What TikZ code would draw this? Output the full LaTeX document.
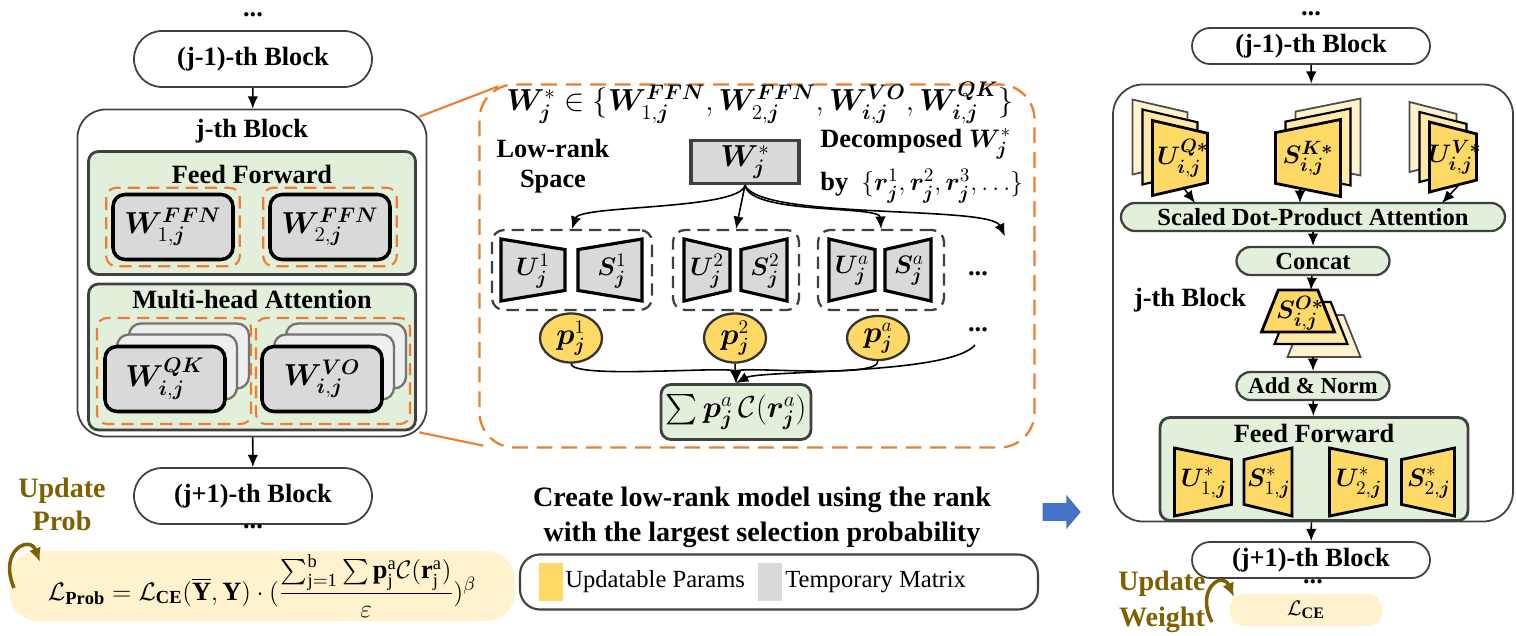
\documentclass[tikz,border=0pt]{standalone}
\usepackage{fontspec}
\setmainfont{Liberation Serif}
\usepackage{amsmath,bm}
\usetikzlibrary{shapes.misc,shapes.arrows,shapes.geometric,arrows.meta}
\newlength\pxl \setlength\pxl{0.02cm}
\newcommand\bft{\fontsize{15}{18}\selectfont\bfseries}
\newcommand\trU[5]{% cx,cy,w,h,style  (U: tall left edge)
 \draw[#5] ({#1-#3/2},{#2-#4/2}) -- ({#1+#3/2},{#2-#4/2+0.17*#4}) -- ({#1+#3/2},{#2+#4/2-0.17*#4}) -- ({#1-#3/2},{#2+#4/2}) -- cycle;}
\newcommand\trS[5]{% S: tall right edge
 \draw[#5] ({#1-#3/2},{#2-#4/2+0.17*#4}) -- ({#1+#3/2},{#2-#4/2}) -- ({#1+#3/2},{#2+#4/2}) -- ({#1-#3/2},{#2+#4/2-0.17*#4}) -- cycle;}
\newcommand\trO[5]{% horizontal: narrow top
 \draw[#5] ({#1-0.27*#3},{#2-#4/2}) -- ({#1+0.27*#3},{#2-#4/2}) -- ({#1+#3/2},{#2+#4/2}) -- ({#1-#3/2},{#2+#4/2}) -- cycle;}
\definecolor{yel}{HTML}{FFD966}
\definecolor{lyel}{HTML}{FFF2CC}
\definecolor{byel}{HTML}{FFE8A8}
\definecolor{grn}{HTML}{E2EFDA}
\definecolor{gry}{HTML}{D9D9D9}
\definecolor{lgry}{HTML}{EEEEEE}
\definecolor{org}{HTML}{ED7D31}
\definecolor{olv}{HTML}{7F6000}
\definecolor{blu}{HTML}{4472C4}
\tikzset{
 blk/.style={rounded rectangle, draw=black!75, line width=1pt, fill=white, font=\bft, minimum height=56\pxl, minimum width=238\pxl, inner sep=0},
 gbox/.style={draw=black!75, line width=1.6pt, fill=grn, rounded corners=10\pxl, inner sep=0},
 wbox/.style={draw=black, line width=2pt, fill=gry, rounded corners=12\pxl, inner sep=0, font=\fontsize{17}{19}\selectfont, minimum width=120\pxl, minimum height=65\pxl},
 bwbox/.style={draw=black!55, line width=1.3pt, fill=lgry, rounded corners=12\pxl, minimum width=120\pxl, minimum height=65\pxl},
 odash/.style={draw=org, line width=1.2pt, dash pattern=on 7pt off 4pt, rounded corners=10\pxl},
 kdash/.style={draw=black!75, line width=1.3pt, dash pattern=on 7pt off 4pt, rounded corners=12\pxl, inner sep=0},
 arr/.style={-{Latex[length=7pt,width=6pt]}, line width=0.9pt},
 tg/.style={draw=black, line width=1.8pt, fill=gry},
 ty/.style={draw=black, line width=1.6pt, fill=yel},
 tb/.style={draw=black, line width=1.2pt, fill=byel},
 tbb/.style={draw=black!70, line width=1pt, fill=lyel},
 ml/.style={font=\fontsize{15}{17}\selectfont, inner sep=0},
 pill/.style={rounded rectangle, draw=black!75, line width=1.3pt, fill=grn, inner sep=0, font=\fontsize{14}{16}\selectfont\bfseries},
 tx/.style={font=\bft, inner sep=0},
 lbl/.style={font=\fontsize{15}{17}\selectfont\bfseries, inner sep=0, align=center},
 olive/.style={font=\fontsize{16}{18}\selectfont\bfseries, text=olv, inner sep=0},
 pel/.style={ellipse, draw=black!80, line width=1.3pt, fill=yel, minimum width=62\pxl, minimum height=44\pxl, inner sep=0, font=\fontsize{16}{18}\selectfont},
}
\begin{document}
\begin{tikzpicture}[x=0.02cm,y=-0.02cm]
\useasboundingbox (0,0) rectangle (1516,636);
% ===== left column
\node[tx] (dl1) at (253,15) {...};
\node[blk] (bm1) at (253,59) {(j-1)-th Block};
\node[draw=black!75, line width=1pt, rounded corners=28\pxl, minimum width=349\pxl, minimum height=327\pxl, inner sep=0] (jb) at (252,273) {};
\node[tx] (jbt) at (252,131) {j-th Block};
\draw[arr] (bm1) -- (jb);
\node[gbox, minimum width=327\pxl, minimum height=123\pxl] (ff) at (252,213) {};
\node[tx] (fft) at (252,174) {Feed Forward};
\node[wbox] (f1) at (173,227) {$\bm{W}^{\bm{FFN}}_{1,\bm{j}}$};
\node[wbox] (f2) at (330,227) {$\bm{W}^{\bm{FFN}}_{2,\bm{j}}$};
\draw[odash] ([shift={(-5,-5)}]f1.north west) rectangle ([shift={(5,5)}]f1.south east);
\draw[odash] ([shift={(-5,-5)}]f2.north west) rectangle ([shift={(5,5)}]f2.south east);
\node[gbox, minimum width=327\pxl, minimum height=146\pxl] (mha) at (252,357) {};
\node[tx] (mhat) at (252,300) {Multi-head Attention};
\draw[odash] (97,318) rectangle (251,424);
\draw[odash] (256,318) rectangle (410,424);
\node[bwbox] (qkb2) at (189,356) {};
\node[bwbox] (qkb1) at (177,367) {};
\node[wbox] (qk) at (165,379) {$\bm{W}^{\bm{QK}}_{\bm{i},\bm{j}}$};
\node[bwbox] (vob2) at (346,356) {};
\node[bwbox] (vob1) at (334,367) {};
\node[wbox] (vo) at (322,379) {$\bm{W}^{\bm{VO}}_{\bm{i},\bm{j}}$};
\node[blk] (bp1) at (253,496) {(j+1)-th Block};
\draw[arr] (jb) -- (bp1);
\node[tx] (dl2) at (253,527) {...};
\node[olive] (up1) at (62,491) {Update};
\node[olive] (up2) at (62,521) {Prob};
\node[draw=none, fill=lyel, rounded corners=28\pxl, minimum width=505\pxl, minimum height=70\pxl, inner sep=0] (lp) at (262,586)
 {\fontsize{15}{17}\selectfont$\mathcal{L}_{\mathbf{Prob}}=\mathcal{L}_{\mathbf{CE}}(\overline{\mathbf{Y}},\mathbf{Y})\cdot(\dfrac{\sum_{\mathrm{j=1}}^{\mathrm{b}}\sum \mathbf{p}_{\mathrm{j}}^{\mathrm{a}}\mathcal{C}(\mathbf{r}_{\mathrm{j}}^{\mathrm{a}})}{\varepsilon})^{\beta}$};
\coordinate (ca1) at (14,588);
\coordinate (ca2) at (40,562);
\draw[-{Latex[length=8pt,width=7pt]}, line width=2pt, draw=olv] (ca1) .. controls (-2,550) and (30,535) .. (ca2);
% ===== middle
\node[odash, line width=1.3pt, rounded corners=35\pxl, minimum width=555\pxl, minimum height=363\pxl, draw=org, dash pattern=on 9pt off 5pt] (mid) at (757,266) {};
\draw[org, line width=1.2pt] ([shift={(-8,8)}]jb.north east) -- ([shift={(20,3)}]mid.north west);
\draw[org, line width=1.2pt] ([shift={(-8,-5)}]jb.south east) -- ([shift={(5,-3)}]mid.south west);
\node[ml, font=\fontsize{17}{19}\selectfont] (top) at (760,103) {$\bm{W}^{*}_{\bm{j}}\in\{\bm{W}^{\bm{FFN}}_{1,\bm{j}},\bm{W}^{\bm{FFN}}_{2,\bm{j}},\bm{W}^{\bm{VO}}_{\bm{i},\bm{j}},\bm{W}^{\bm{QK}}_{\bm{i},\bm{j}}\}$};
\node[lbl] (lrs) at (553,166) {Low-rank\\Space};
\node[draw=black!75, line width=2pt, fill=gry, minimum width=108\pxl, minimum height=43\pxl, inner sep=0, font=\fontsize{17}{19}\selectfont] (ws) at (745,162) {$\bm{W}^{*}_{\bm{j}}$};
\node[lbl, anchor=west] (dec) at (820,144) {Decomposed $\bm{W}^{*}_{\bm{j}}$};
\node[lbl, anchor=west] (by) at (820,186) {by \ $\{\bm{r}^1_{\bm{j}},\bm{r}^2_{\bm{j}},\bm{r}^3_{\bm{j}},\ldots\}$};
\node[kdash, minimum width=160\pxl, minimum height=80\pxl] (g1) at (572,270) {};
\node[kdash, minimum width=126\pxl, minimum height=80\pxl] (g2) at (736,270) {};
\node[kdash, minimum width=126\pxl, minimum height=80\pxl] (g3) at (881,270) {};
\coordinate (g4) at (1005,236);
\draw[arr] (ws.south) .. controls (740,210) and (580,205) .. (g1.north);
\draw[arr] (ws.south) -- (g2.north);
\draw[arr] (ws.south) .. controls (750,215) and (880,205) .. (g3.north);
\draw[arr] (ws.south) .. controls (760,220) and (990,205) .. (g4);
\trU{533}{270}{64}{62}{tg} \node[ml] (u1) at (533,271) {$\bm{U}^1_{\bm{j}}$};
\trS{610}{270}{64}{62}{tg} \node[ml] (s1) at (612,271) {$\bm{S}^1_{\bm{j}}$};
\trU{707}{270}{46}{62}{tg} \node[ml] (u2) at (707,271) {$\bm{U}^2_{\bm{j}}$};
\trS{764}{270}{46}{62}{tg} \node[ml] (s2) at (765,271) {$\bm{S}^2_{\bm{j}}$};
\trU{852}{270}{46}{62}{tg} \node[ml] (u3) at (852,271) {$\bm{U}^a_{\bm{j}}$};
\trS{908}{270}{46}{62}{tg} \node[ml] (s3) at (909,271) {$\bm{S}^a_{\bm{j}}$};
\node[tx] (dm1) at (978,274) {...};
\node[pel] (p1) at (571,338) {$\bm{p}^1_{\bm{j}}$};
\node[pel] (p2) at (735,338) {$\bm{p}^2_{\bm{j}}$};
\node[pel] (p3) at (878,338) {$\bm{p}^a_{\bm{j}}$};
\node[tx] (dm2) at (978,330) {...};
\coordinate (pe) at (975,345);
\node[gbox, minimum width=150\pxl, minimum height=55\pxl, font=\fontsize{17}{19}\selectfont] (sum) at (736,412) {$\sum \bm{p}^a_{\bm{j}}\,\mathcal{C}(\bm{r}^a_{\bm{j}})$};
\draw[arr] (p1.south) .. controls (571,380) and (736,365) .. (sum.north);
\draw[arr] (p2.south) -- (sum.north);
\draw[arr] (p3.south) .. controls (878,380) and (736,365) .. (sum.north);
\draw[arr] (pe) .. controls (950,375) and (760,370) .. (sum.north);
\node[font=\fontsize{16}{20}\selectfont\bfseries, align=center, inner sep=0] (cr) at (762,517) {Create low-rank model using the rank\\with the largest selection probability};
\node[draw=black!75, line width=1.2pt, rounded corners=20\pxl, minimum width=518\pxl, minimum height=55\pxl, inner sep=0] (leg) at (779,582) {};
\node[fill=yel, minimum width=24\pxl, minimum height=38\pxl, inner sep=0] (ly) at (551,582) {};
\node[anchor=west, font=\fontsize{14}{16}\selectfont, inner sep=0] (lyt) at (565,582) {Updatable Params};
\node[fill=gry, minimum width=24\pxl, minimum height=38\pxl, inner sep=0] (lg) at (770,582) {};
\node[anchor=west, font=\fontsize{14}{16}\selectfont, inner sep=0] (lgt) at (785,582) {Temporary Matrix};
\node[single arrow, fill=blu, minimum height=38\pxl, minimum width=34\pxl, inner sep=5\pxl, single arrow head extend=5\pxl, single arrow tip angle=100] (ba) at (1058,512) {};
% ===== right
\node[tx] (dr1) at (1311,14) {...};
\node[blk, minimum height=36\pxl] (rbm1) at (1311,46) {(j-1)-th Block};
\node[draw=black!75, line width=1pt, rounded corners=30\pxl, minimum width=400\pxl, minimum height=437\pxl, inner sep=0] (rjb) at (1313,303) {};
\draw[arr] (rbm1) -- (rjb);
\trU{1160}{137}{55}{75}{tbb} \trU{1170}{147}{55}{75}{tb} \trU{1180}{158}{55}{75}{ty}
\node[ml] (uq) at (1183,158) {$\bm{U}^{\bm{Q*}}_{\bm{i},\bm{j}}$};
\trS{1328}{137}{65}{77}{tbb} \trS{1318}{147}{65}{77}{tb} \trS{1308}{158}{65}{77}{ty}
\node[ml] (sk) at (1308,158) {$\bm{S}^{\bm{K*}}_{\bm{i},\bm{j}}$};
\trU{1433}{137}{47}{70}{tbb} \trU{1443}{147}{47}{70}{tb} \trU{1453}{157}{47}{70}{ty}
\node[ml] (uv) at (1455,157) {$\bm{U}^{\bm{V*}}_{\bm{i},\bm{j}}$};
\node[pill, minimum width=384\pxl, minimum height=28\pxl] (sdpa) at (1313,217) {Scaled Dot-Product Attention};
\coordinate (uqb) at (1183,187);
\coordinate (skb) at (1300,190);
\coordinate (uvb) at (1458,186);
\draw[arr] (uqb) -- (1195,203);
\draw[arr] (skb) -- (1300,203);
\draw[arr] (uvb) -- (1442,203);
\node[pill, minimum width=153\pxl, minimum height=28\pxl] (cc) at (1313,261) {Concat};
\draw[arr] (sdpa) -- (cc);
\node[tx] (rjt) at (1190,300) {j-th Block};
\trO{1324}{336}{73}{42}{tbb} \trO{1311}{323}{73}{42}{tb} \trO{1298}{311}{73}{42}{ty}
\node[ml] (so) at (1300,313) {$\bm{S}^{\bm{O*}}_{\bm{i},\bm{j}}$};
\coordinate (sot) at (1311,290);
\coordinate (sob) at (1313,357);
\draw[arr] (cc) -- (sot);
\node[pill, minimum width=153\pxl, minimum height=28\pxl, font=\fontsize{13}{15}\selectfont\bfseries] (an) at (1313,386) {Add \& Norm};
\draw[arr] (sob) -- (an);
\node[gbox, minimum width=308\pxl, minimum height=103\pxl] (rff) at (1314,469) {};
\node[tx] (rfft) at (1314,433) {Feed Forward};
\draw[arr] (an) -- (rff);
\trU{1203}{482}{57}{68}{ty} \node[ml] (ru1) at (1204,483) {$\bm{U}^{*}_{1,\bm{j}}$};
\trS{1268}{482}{48}{68}{ty} \node[ml] (rs1) at (1269,483) {$\bm{S}^{*}_{1,\bm{j}}$};
\trU{1358}{482}{57}{68}{ty} \node[ml] (ru2) at (1359,483) {$\bm{U}^{*}_{2,\bm{j}}$};
\trS{1428}{482}{53}{68}{ty} \node[ml] (rs2) at (1429,483) {$\bm{S}^{*}_{2,\bm{j}}$};
\node[blk, minimum height=36\pxl] (rbp1) at (1311,560) {(j+1)-th Block};
\draw[arr] (rjb) -- (rbp1);
\node[tx] (dr2) at (1313,582) {...};
\node[fill=lyel, rounded corners=14\pxl, minimum width=152\pxl, minimum height=32\pxl, inner sep=0, font=\fontsize{13}{15}\selectfont] (lce) at (1306,610) {$\mathcal{L}_{\mathbf{CE}}$};
\node[olive] (uw1) at (1162,584) {Update};
\node[olive] (uw2) at (1162,620) {Weight};
\coordinate (cw1) at (1212,622);
\coordinate (cw2) at (1234,597);
\draw[-{Latex[length=8pt,width=7pt]}, line width=2pt, draw=olv] (cw1) .. controls (1195,590) and (1222,570) .. (cw2);
\end{tikzpicture}
\end{document}
